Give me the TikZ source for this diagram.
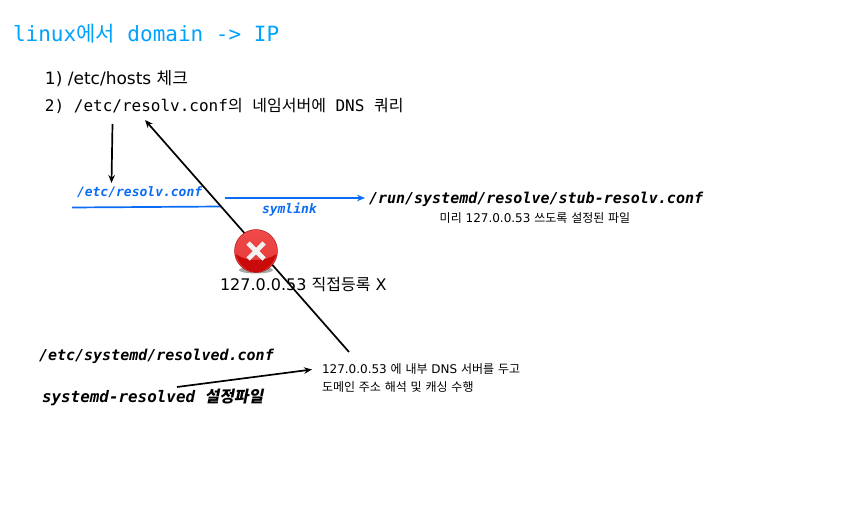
\documentclass[tikz,border=0pt]{standalone}
\usepackage{fontspec}
\setmainfont{DejaVu Sans}
\setmonofont{DejaVu Sans Mono}
\newfontfamily\krfont{Noto Sans CJK KR}
\newfontfamily\krbold[FakeSlant=.2]{Noto Sans CJK KR Bold}
\newcommand{\kor}[1]{{\krfont #1}}
\newcommand{\korb}[1]{{\krbold #1}}
\newcommand{\px}[1]{\fontsize{#1}{#1}\selectfont}
\usetikzlibrary{arrows.meta,positioning}
\definecolor{titleblue}{HTML}{00A2FF}
\definecolor{linkblue}{HTML}{0B6CF5}
\definecolor{badgetop}{HTML}{F04A4A}
\definecolor{badgelow}{HTML}{C80A0A}
\tikzset{
    arr/.style={->,>={Stealth[length=8pt,width=6.5pt]},line width=1.7pt,black},
    bluearr/.style={->,>={Stealth[length=8pt,width=6.5pt]},line width=1.7pt,linkblue},
    blueline/.style={line width=1.7pt,linkblue},
    label/.style={anchor=west,inner sep=0pt,outer sep=0pt},
    bigpath/.style={label,font=\px{15}\ttfamily\bfseries\itshape},
    bluepath/.style={label,linkblue,font=\px{13}\ttfamily\bfseries\itshape},
    note/.style={label,font=\px{12}},
}
\begin{document}
\begin{tikzpicture}[x=1pt,y=-1pt]
        \useasboundingbox (0,0) rectangle (860,532);
        % heading and the two steps
        \node[label,titleblue,font=\px{21}\ttfamily] (title) at (13,34) {linux\kor{에서} domain -> IP};
        \node[label,font=\px{17}] (hosts) at (45,79) {1) /etc/hosts \kor{체크}};
        \node[label,font=\px{16}\ttfamily] (query) at (45,105.5) {2) /etc/resolv.conf\kor{의} \kor{네임서버에} DNS \kor{쿼리}};

        % resolv.conf and its symlink
        \node[bluepath] (resolv) at (77,192) {/etc/resolv.conf};
        \node[bluepath] (symlink) at (262,209.5) {symlink};
        \node[bigpath] (stub) at (369,199.5) {/run/systemd/resolve/stub-resolv.conf};
        \node[note,anchor=center] (preset) at (535,218.5) {\kor{미리} 127.0.0.53 \kor{쓰도록} \kor{설정된} \kor{파일}};
        \coordinate (linestart) at (72,207.5);
        \coordinate (lineend) at (221,206.5);
        \coordinate (symstart) at (225,198);
        \draw[blueline] (linestart) -- (lineend);
        \draw[bluearr,shorten >=4pt] (symstart) -- (stub.west |- symstart);

        % resolved.conf
        \node[bigpath] (resolved) at (39,356.5) {/etc/systemd/resolved.conf};
        \node[bigpath,font=\px{15.9}\ttfamily\bfseries\itshape] (daemon) at (42,397) {systemd-resolved \korb{설정파일}};
        \node[note] (dns) at (322,369) {127.0.0.53 \kor{에} \kor{내부} DNS \kor{서버를} \kor{두고}};
        \node[note] (cache) at (322,387) {\kor{도메인} \kor{주소} \kor{해석} \kor{및} \kor{캐싱} \kor{수행}};

        % arrows
        \coordinate (downstart) at (112.5,124);
        \coordinate (downend) at (111.5,183);
        \coordinate (upstart) at (349,352);
        \coordinate (upend) at (145,120);
        \coordinate (rightstart) at (177,387);
        \coordinate (rightend) at (312,369.5);
        \draw[arr] (downstart) -- (downend);
        \draw[arr] (upstart) -- (upend);
        \draw[arr] (rightstart) -- (rightend);

        % forbidden badge
        \fill[black!35] (256,270) ellipse (17 and 3.5);
        \node[circle,minimum size=43pt,inner sep=0pt,draw=badgelow!80!black,line width=.4pt,
            top color=badgetop,bottom color=badgetop!70!badgelow] (badge) at (256,251) {};
        \fill[badgelow] (235.5,254) .. controls (246,262) and (266,262) .. (276.5,254)
            .. controls (273,266) and (263,272.3) .. (256,272.3) .. controls (249,272.3) and (239,266) .. (235.5,254) -- cycle;
        \coordinate (crossa) at (248,243);
        \coordinate (crossb) at (264,259);
        \coordinate (crossc) at (264,243);
        \coordinate (crossd) at (248,259);
        \draw[white!95!black,line width=4.6pt] (crossa) -- (crossb);
        \draw[white!95!black,line width=4.6pt] (crossc) -- (crossd);
        \node[label,font=\px{16}] (direct) at (220,285) {127.0.0.53 \kor{직접등록} X};
\end{tikzpicture}
\end{document}
